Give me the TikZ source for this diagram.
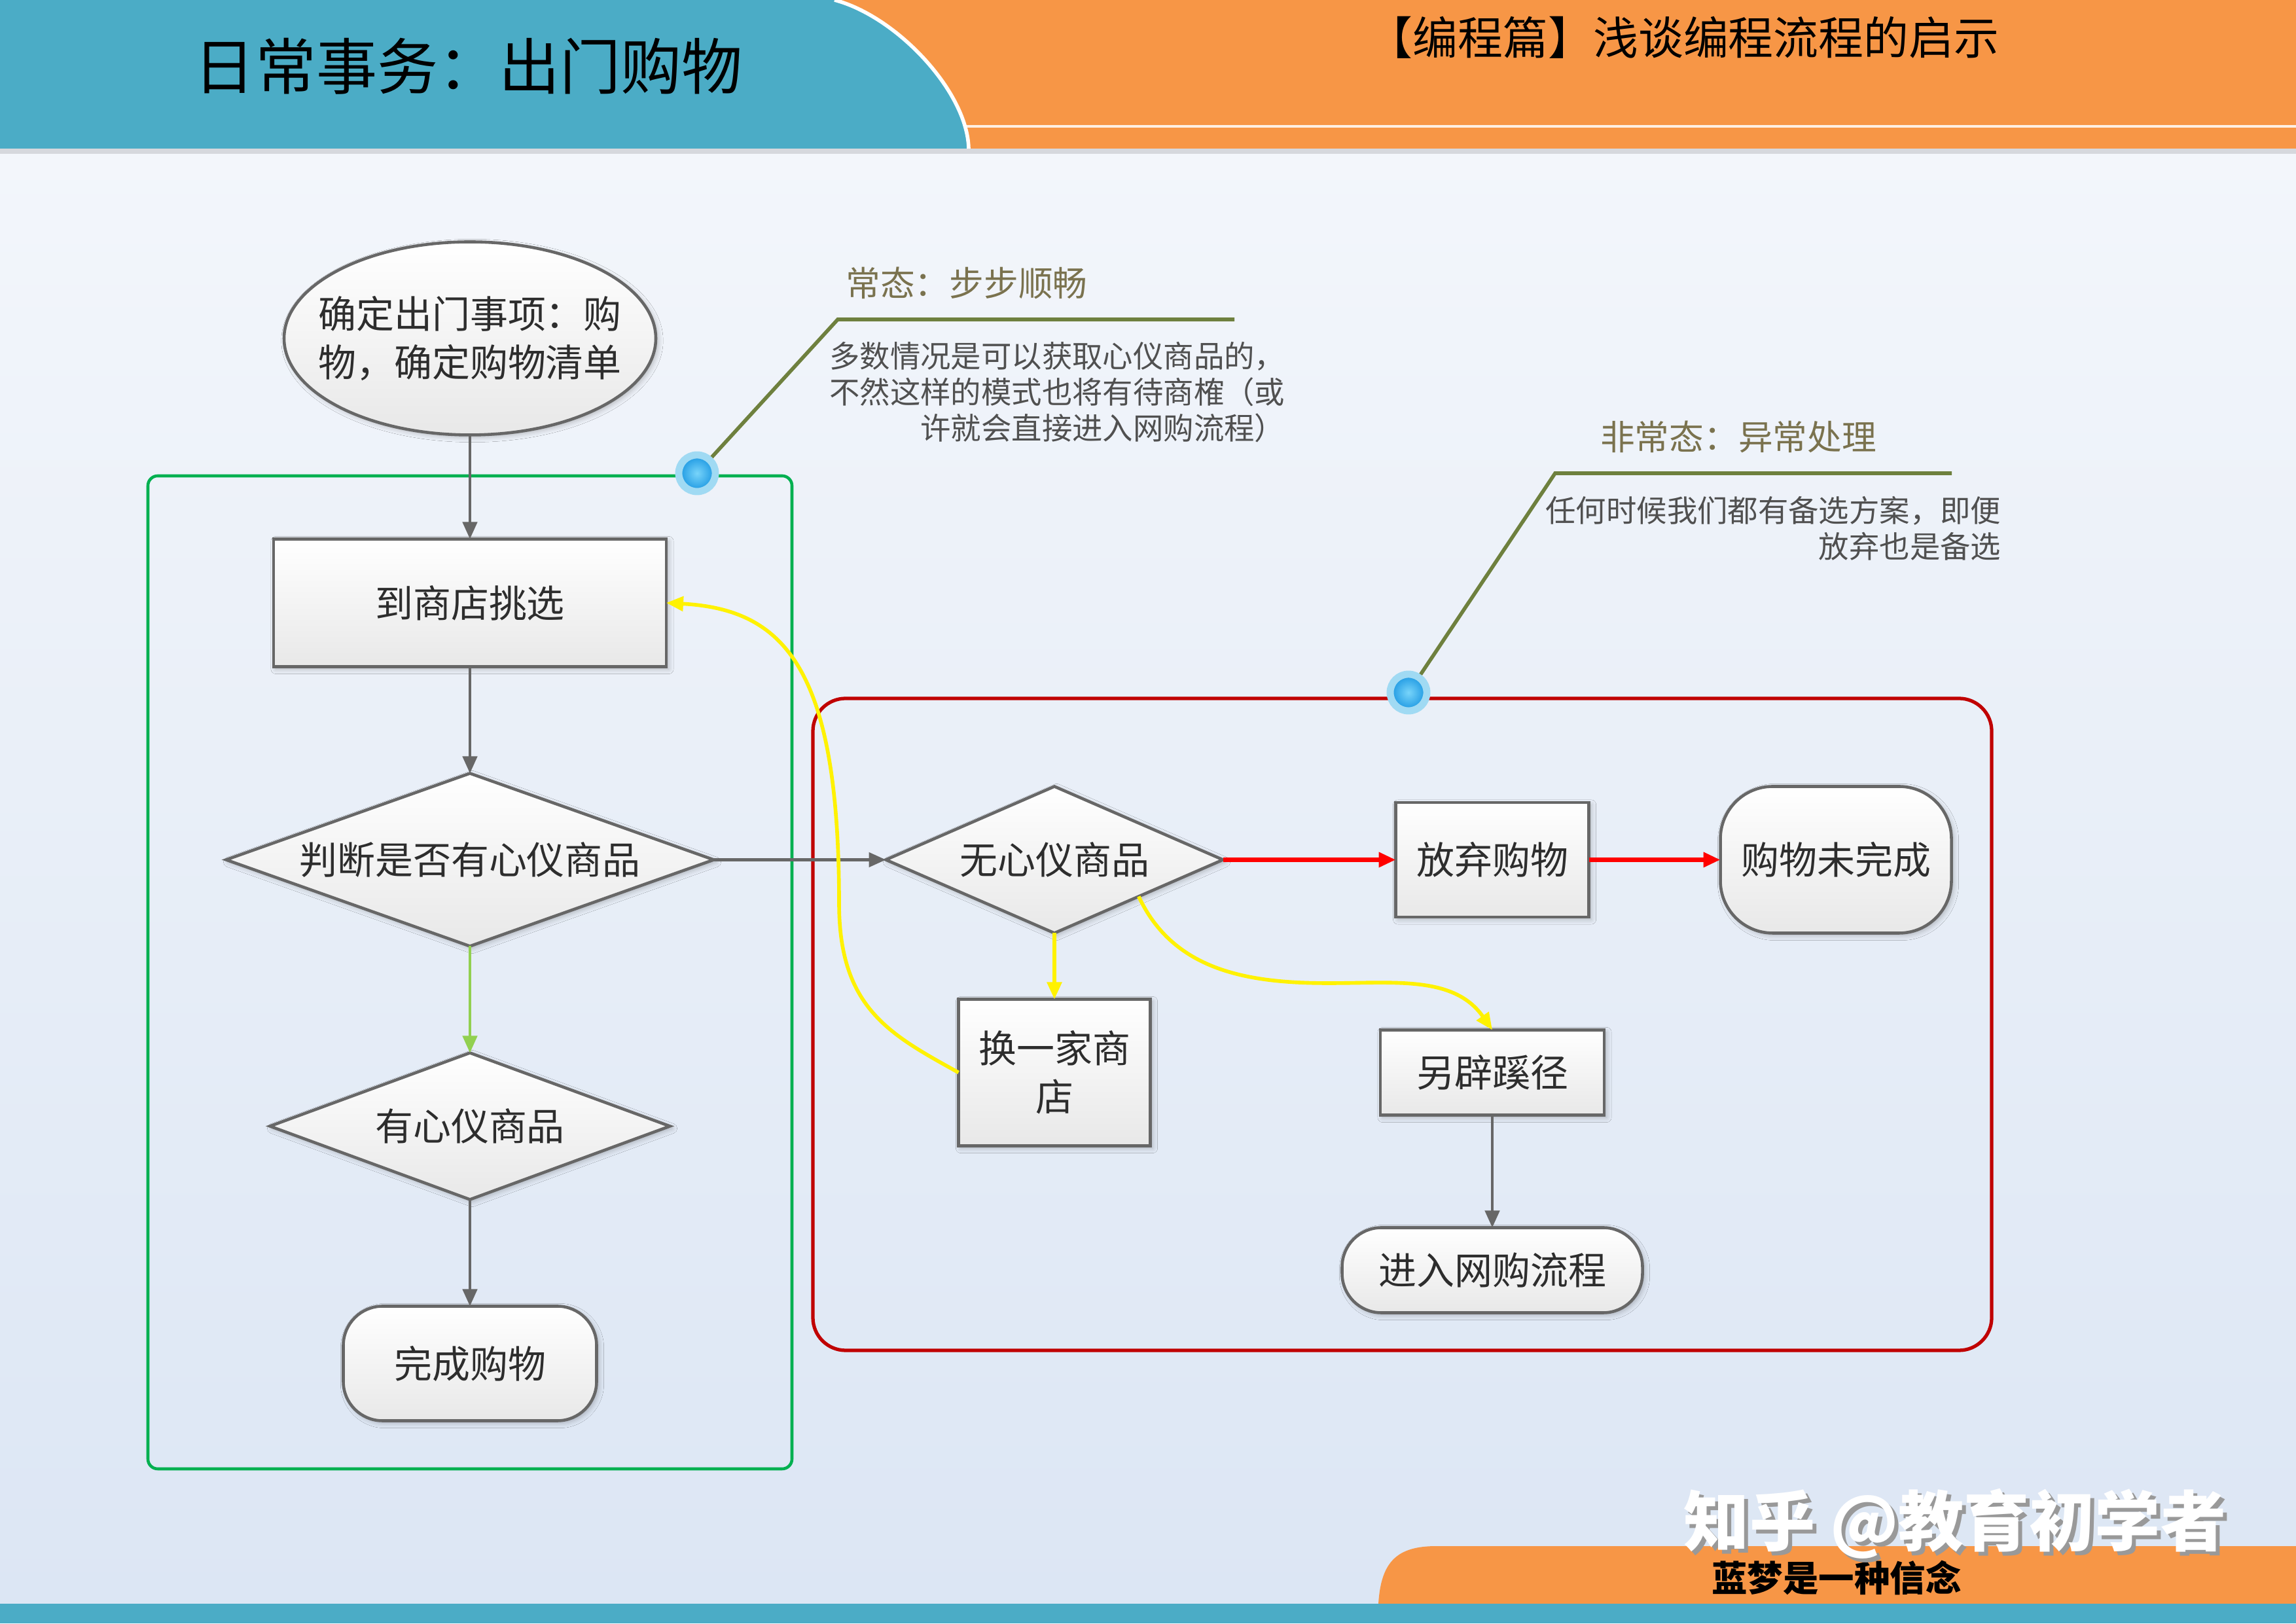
\documentclass[tikz,border=0pt]{standalone}
\usepackage{fontspec}
\setmainfont{Noto Sans CJK SC}
\usepackage{tikz}
\usetikzlibrary{positioning,arrows.meta,calc,shapes.geometric,shadows.blur}
\definecolor{hBlue}{RGB}{75,172,198}
\definecolor{hOrange}{RGB}{247,150,70}
\definecolor{nLine}{RGB}{103,103,103}
\definecolor{nText}{RGB}{45,45,45}
\definecolor{okLine}{RGB}{0,176,80}
\definecolor{errLine}{RGB}{192,0,0}
\definecolor{yesLine}{RGB}{146,208,80}
\definecolor{tagLine}{RGB}{110,128,62}
\definecolor{tagHead}{RGB}{122,114,78}
\definecolor{tagText}{RGB}{80,80,80}
\definecolor{pinRing}{RGB}{160,218,243}
\definecolor{pinIn}{RGB}{120,212,250}
\definecolor{pinOut}{RGB}{25,150,225}
\definecolor{bgTop}{RGB}{243,246,251}
\definecolor{bgBot}{RGB}{220,230,244}
\tikzset{
  base/.style={draw=nLine, line width=1.3pt, top color=white, bottom color=black!9,
               text=nText, align=center, outer sep=0pt, font=\fontsize{16.5}{21}\selectfont,
               blur shadow={shadow xshift=1pt, shadow yshift=-1pt, shadow opacity=25}},
  proc/.style={base, rectangle, inner sep=2pt},
  test/.style={base, diamond, aspect=2.8, inner sep=0pt},
  term/.style={base, rectangle, rounded corners=6mm, inner sep=2pt},
  startel/.style={base, ellipse, inner xsep=-4mm, inner ysep=0pt},
  flow/.style={-{Triangle[length=2.6mm, width=2.2mm]}, draw=nLine, line width=1.3pt},
  yesflow/.style={flow, draw=yesLine},
  errflow/.style={flow, draw=red, line width=2pt},
  altflow/.style={flow, draw=yellow, line width=1.6pt},
  okbox/.style={draw=okLine, line width=1.3pt, rounded corners=1.5mm},
  errbox/.style={draw=errLine, line width=1.5pt, rounded corners=5mm},
  pin/.style={circle, minimum size=5.6mm, inner sep=0pt, inner color=pinIn,
              outer color=pinOut, draw=pinRing, line width=3.1pt},
  lead/.style={draw=tagLine, line width=1.6pt},
  taghead/.style={text=tagHead, font=\fontsize{15}{18}\selectfont},
  tagbody/.style={text=tagText, align=right, inner sep=0pt,
                  font=\fontsize{13.2}{15.6}\selectfont},
}

\begin{document}
\begin{tikzpicture}[node distance=16mm and 26mm]
  \useasboundingbox (0,0) rectangle (35.08,24.80);

  % ---- background, header band, footer ----
  \fill[top color=bgTop, bottom color=bgBot] (0,0.3) rectangle (35.08,22.53);
  \fill[hOrange] (0,22.53) rectangle (35.08,24.80);
  \fill[black!12!bgTop] (0,22.45) rectangle (35.08,22.53);
  \fill[white!85!hOrange] (14.6,22.85) rectangle (35.08,22.89);
  \fill[hBlue] (0,24.80) -- (12.75,24.80) .. controls (13.7,24.55) and (14.78,23.4) .. (14.80,22.53)
        -- (0,22.53) -- cycle;
  \draw[white, line width=1.6pt] (12.75,24.80) .. controls (13.7,24.55) and (14.78,23.4) .. (14.80,22.53);
  \fill[hOrange] (21.06,0.3) .. controls (21.1,0.95) and (21.35,1.18) .. (21.95,1.18)
        -- (35.08,1.18) -- (35.08,0.3) -- cycle;
  \fill[hBlue] (0,0) rectangle (35.08,0.3);

  \node[font=\fontsize{26.5}{30}\selectfont] (title) at (7.16,23.79) {日常事务：出门购物};
  \node[font=\fontsize{19.6}{24}\selectfont] (series) at (25.72,24.23) {【编程篇】浅谈编程流程的启示};
  \node[font=\bfseries\fontsize{15.5}{18}\selectfont] (motto) at (28.06,0.70) {蓝梦是一种信念};
  \node[font=\bfseries\fontsize{28.5}{32}\selectfont, text=black!40] (markshade) at (29.93,1.46) {知乎 @教育初学者};
  \node[font=\bfseries\fontsize{28.5}{32}\selectfont, text=white] (mark) at (29.87,1.52) {知乎 @教育初学者};

  % ---- frames ----
  \node[okbox, minimum width=98.4mm, minimum height=151.7mm] (okframe) at (7.18,9.945) {};
  \node[errbox, minimum width=180.1mm, minimum height=99.6mm] (errframe) at (21.425,9.15) {};

  % ---- main line (left) ----
  \node[startel, minimum width=56.8mm, minimum height=29.5mm] (plan) at (7.18,19.63)
        {确定出门事项：购\\物，确定购物清单};
  \node[proc, below=15.9mm of plan, minimum width=60mm, minimum height=19.5mm] (pick) {到商店挑选};
  \node[test, below=16.3mm of pick, minimum width=74.5mm, minimum height=26.4mm] (judge) {判断是否有心仪商品};
  \node[test, below=16.3mm of judge, minimum width=61.1mm, minimum height=22.4mm] (have) {有心仪商品};
  \node[term, below=16.3mm of have, minimum width=38.7mm, minimum height=17.5mm] (done) {完成购物};

  % ---- exception branch (right) ----
  \node[test, right=26.3mm of judge, minimum width=51.5mm, minimum height=22.4mm] (none) {无心仪商品};
  \node[proc, right=26.4mm of none, minimum width=29.5mm, minimum height=17.5mm] (quit) {放弃购物};
  \node[term, right=20.1mm of quit, minimum width=35.3mm, minimum height=22.4mm,
        rounded corners=8mm] (fail) {购物未完成};
  \node[proc, below=10.1mm of none, minimum width=29.3mm, minimum height=22.4mm] (swap) {换一家商\\店};
  \node[proc, minimum width=34.2mm, minimum height=13mm] (alt) at (quit |- swap) {另辟蹊径};
  \node[term, below=17.2mm of alt, minimum width=45.9mm, minimum height=13mm] (online) {进入网购流程};

  % ===== normal flow =====
  \draw[flow] (plan) -- (pick);
  \draw[flow] (pick) -- (judge);
  \draw[yesflow] (judge) -- (have);
  \draw[flow] (have) -- (done);
  \draw[flow] (judge) -- (none);

  % ===== exception flow =====
  \coordinate (bendA) at (12.82,11.0);
  \coordinate (bendB) at (20.3,9.78);
  \draw[errflow] (none) -- (quit);
  \draw[errflow] (quit) -- (fail);
  \draw[altflow] (none) -- (swap);
  \draw[altflow] (none.south east) to[out=-65,in=180] (bendB) to[out=0,in=125] (alt.north);
  \draw[altflow] (swap.west) .. controls +(151:1.2) and +(0,-1.6) .. (bendA)
        .. controls +(0,3.6) and +(1.8,-0.1) .. (pick.east);
  \draw[flow] (alt) -- (online);

  % ---- notes ----
  \node[pin] (pin1) at (10.65,17.57) {};
  \coordinate (knee1) at (12.80,19.92);
  \coordinate (tip1) at (18.86,19.92);
  \draw[lead] (pin1) -- (knee1) -- (tip1);
  \node[taghead] (head1) at (14.77,20.48) {常态：步步顺畅};
  \node[tagbody, anchor=north east] (body1) at (19.64,19.58)
        {多数情况是可以获取心仪商品的，\\不然这样的模式也将有待商榷（或\\许就会直接进入网购流程）};

  \node[pin] (pin2) at (21.52,14.22) {};
  \coordinate (knee2) at (23.76,17.57);
  \coordinate (tip2) at (29.82,17.57);
  \draw[lead] (pin2) -- (knee2) -- (tip2);
  \node[taghead] (head2) at (26.56,18.13) {非常态：异常处理};
  \node[tagbody, anchor=north east] (body2) at (30.58,17.22)
        {任何时候我们都有备选方案，即便\\放弃也是备选};

\end{tikzpicture}
\end{document}
